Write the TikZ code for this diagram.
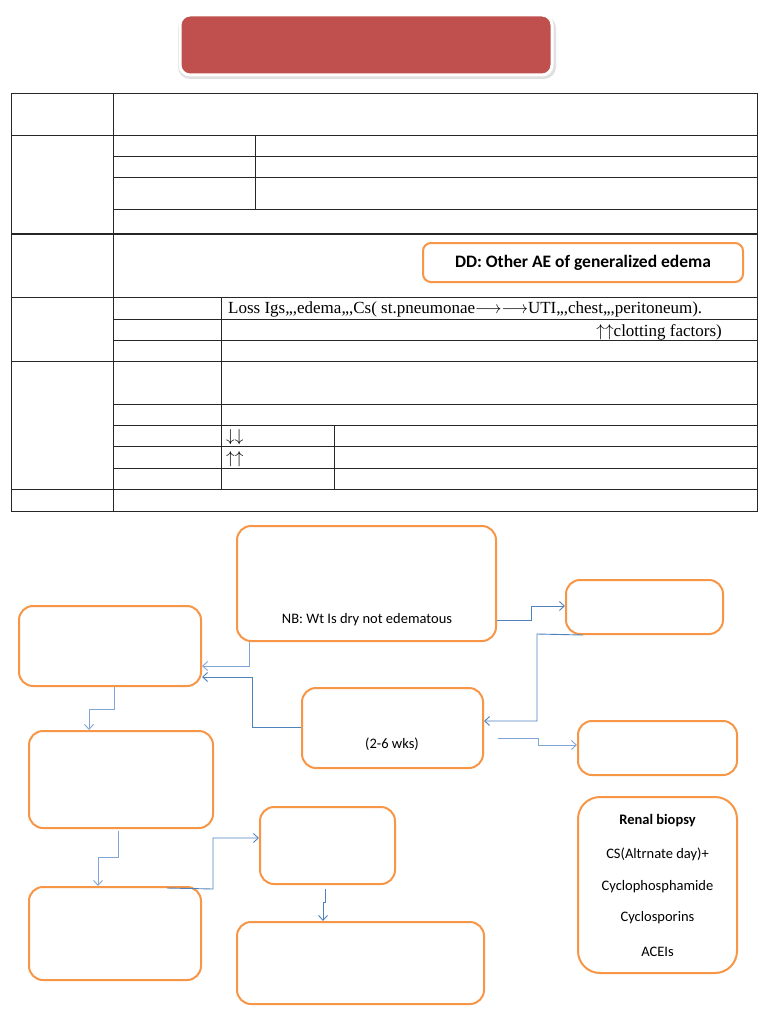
\documentclass[tikz,border=0pt]{standalone}
\usepackage{graphicx}
\usepackage{fontspec}
\setmainfont{Liberation Serif}
\newfontfamily\calfont{Carlito}
\usetikzlibrary{arrows.meta}
\definecolor{titlered}{RGB}{192,80,77}
\definecolor{orng}{RGB}{247,150,70}
\definecolor{blu}{RGB}{79,129,189}
\definecolor{lblu}{RGB}{130,165,215}
\newcommand{\rarr}{\scalebox{0.95}[1]{$\longrightarrow$}}
\begin{document}
\begin{tikzpicture}[x=1pt,y=-1pt,
  tline/.style={line width=1pt,black!85},
  fbox/.style={draw=orng,line width=2pt,rounded corners=14pt,fill=white},
  arr/.style={draw=blu,line width=0.9pt,-{Straight Barb[length=5pt,width=9pt]}},
  larr/.style={draw=lblu,line width=0.9pt,-{Straight Barb[length=5pt,width=9pt]}},
  ctext/.style={font=\calfont\fontsize{14.5}{17}\selectfont,inner sep=0pt},
  ttext/.style={font=\fontsize{17}{20}\selectfont,inner sep=0pt,anchor=base west}
]
\useasboundingbox (0,0) rectangle (768,1024);
% title
\fill[black!12,rounded corners=12pt] (178,16) rectangle (556,79);
\node[draw=white,line width=3pt,fill=titlered,rounded corners=10pt,minimum width=372pt,minimum height=60pt] (title) at (366,45) {};
% table
\draw[tline] (11,94) rectangle (757,511);
\draw[tline] (113,94) -- (113,511);
\foreach \yy in {136,234,297,361,489} \draw[tline] (11,\yy) -- (757,\yy);
\foreach \yy in {157,178,210} \draw[tline] (113,\yy) -- (757,\yy);
\draw[tline] (255,136) -- (255,210);
\foreach \yy in {319,340,404,425,446,468} \draw[tline] (113,\yy) -- (757,\yy);
\draw[tline] (221,297) -- (221,489);
\draw[tline] (334,425) -- (334,489);
\node[draw=orng,line width=2pt,rounded corners=8pt,minimum width=320pt,minimum height=39pt,font=\calfont\bfseries\fontsize{17.5}{20}\selectfont] (dd) at (583,262.5) {DD: Other AE of generalized edema};
\node[ttext] (loss) at (228,313) {Loss Igs,,,edema,,,Cs( st.pneumonae\rarr\rarr UTI,,,chest,,,peritoneum).};
\node[ttext,anchor=base east] (clot) at (722,336) {$\uparrow\uparrow$clotting factors)};
\node[ttext] (dn) at (226,441) {$\downarrow\downarrow$};
\node[ttext] (up) at (226,463) {$\uparrow\uparrow$};
% flowchart boxes
\node[fbox,minimum width=259pt,minimum height=115pt] (b1) at (366.5,583.5) {};
\node[ctext] (nb) at (367,620) {NB: Wt Is dry not edematous};
\node[fbox,minimum width=182pt,minimum height=80pt] (b2) at (110,646) {};
\node[fbox,minimum width=157pt,minimum height=54pt] (b3) at (644.5,607) {};
\node[fbox,minimum width=181pt,minimum height=80pt] (b4) at (392.5,728) {};
\node[ctext] (wks) at (392,744) {(2-6 wks)};
\node[fbox,minimum width=159pt,minimum height=54pt] (b5) at (657.5,748) {};
\node[fbox,minimum width=184pt,minimum height=97pt] (b6) at (121,779.5) {};
\node[fbox,minimum width=135pt,minimum height=77pt] (b7) at (327.5,845.5) {};
\node[fbox,minimum width=172pt,minimum height=93pt] (b8) at (115,933.5) {};
\node[fbox,minimum width=247pt,minimum height=82pt] (b9) at (360.5,963) {};
\node[fbox,rounded corners=22pt,minimum width=159pt,minimum height=176pt] (b10) at (657.5,885) {};
\node[ctext,font=\calfont\bfseries\fontsize{14.5}{17}\selectfont] (rb) at (657.5,821) {Renal biopsy};
\node[ctext] (cs) at (657.5,854) {CS(Altrnate day)+};
\node[ctext] (cyc) at (657.5,887) {Cyclophosphamide};
\node[ctext] (csp) at (657.5,918) {Cyclosporins};
\node[ctext] (ace) at (657.5,952) {ACEIs};
% connector points
\coordinate (a1s) at (b1.south -| 249,0);
\coordinate (a1e) at (b2.east |- 0,666);
\coordinate (a2s) at (b4.west |- 0,727);
\coordinate (a2e) at (b2.east |- 0,677);
\coordinate (a3s) at (b1.east |- 0,620);
\coordinate (a3e) at (b3.west |- 0,606);
\coordinate (a4s) at (b3.south -| 583,0);
\coordinate (a4e) at (b4.east |- 0,721);
\coordinate (a5s) at (b4.east |- 0,738);
\coordinate (a5e) at (b5.west |- 0,745);
\coordinate (a6s) at (b2.south -| 114,0);
\coordinate (a6e) at (b6.north -| 89,0);
\coordinate (a7s) at (b6.south -| 118,0);
\coordinate (a7e) at (b8.north -| 98,0);
\coordinate (a8s) at (b8.north -| 167,0);
\coordinate (a8e) at (b7.west |- 0,838);
\coordinate (a9s) at (b7.south -| 325,0);
\coordinate (a9e) at (b9.north -| 323,0);
% connectors
\draw[larr] (a1s) -- (249,666) -- (a1e);
\draw[arr] (a2s) -- (252,727) -- (252,677) -- (a2e);
\draw[arr] (a3s) -- (531,620) -- (531,606) -- (a3e);
\draw[arr] (a4s) -- (537,634) -- (537,721) -- (a4e);
\draw[larr] (a5s) ++(14,0) -- (538,738) -- (538,745) -- (a5e);
\draw[larr] (a6s) -- (114,709) -- (89,709) -- (a6e);
\draw[larr] (a7s) ++(0,2) -- (118,857) -- (98,857) -- (a7e);
\draw[arr] (a8s) ++(0,2) -- (213,889) -- (213,838) -- (a8e);
\draw[arr] (a9s) ++(0,4) -- (325,902) -- (323,902) -- (a9e);
\end{tikzpicture}
\end{document}
